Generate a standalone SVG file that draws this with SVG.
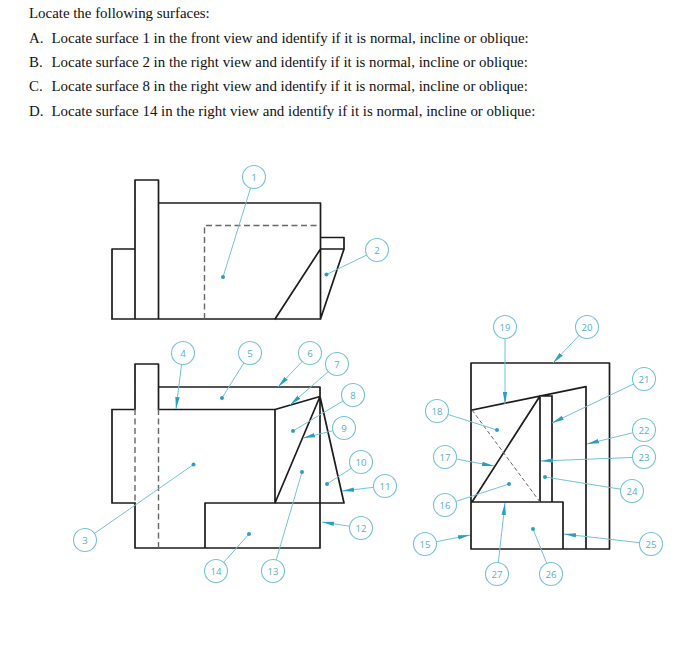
<svg xmlns="http://www.w3.org/2000/svg" width="700" height="651" viewBox="0 0 700 651">
<style>
.t{font-family:"Liberation Serif","Times New Roman",serif;font-size:14.9px;fill:#111}
.k{fill:none;stroke:#1c1c1c;stroke-width:1.7;stroke-linecap:square;stroke-linejoin:round}
.d{fill:none;stroke:#666;stroke-width:1.4;stroke-dasharray:6 3.5}
.l{fill:none;stroke:#74c2d6;stroke-width:1;}
.c{fill:#fff;stroke:#74c2d6;stroke-width:1.1}
.n{font-family:"Open Sans","Liberation Sans",sans-serif;font-size:9.6px;fill:#55afc8;text-anchor:middle}
</style>
<defs>
<marker id="a" markerUnits="userSpaceOnUse" markerWidth="13" markerHeight="8" refX="12" refY="4" orient="auto"><polygon points="0,1.8 12,4 0,6.2" fill="#2b9fc1"/></marker>
<marker id="o" markerUnits="userSpaceOnUse" markerWidth="6" markerHeight="6" refX="3" refY="3"><circle cx="3" cy="3" r="2" fill="#2b9fc1"/></marker>
</defs>
<g id="question">
<text class="t" x="29" y="18">Locate the following surfaces:</text>
<text class="t" x="29" y="42.500">A.</text><text class="t" x="51.500" y="42.500">Locate surface 1 in the front view and identify if it is normal, incline or oblique:</text>
<text class="t" x="29" y="66.700">B.</text><text class="t" x="51.500" y="66.700">Locate surface 2 in the right view and identify if it is normal, incline or oblique:</text>
<text class="t" x="29" y="91">C.</text><text class="t" x="51.500" y="91">Locate surface 8 in the right view and identify if it is normal, incline or oblique:</text>
<text class="t" x="29" y="115.500">D.</text><text class="t" x="51.500" y="115.500">Locate surface 14 in the right view and identify if it is normal, incline or oblique:</text>
</g>
<g id="top-view">
<path class="k" d="M135 319V180H158.500V319M158.500 203H320.500V319M112 319V249H135M112 319H320.500M320.500 237.500H344V249L320.500 319M320.500 249H344M320.500 249L275 319"/>
<path class="d" d="M204.500 319V225.500H320"/>
</g>
<g id="front-view">
<path class="k" d="M135 409V364H158.500V409M158.500 387H320V548H135V503M112 409.500H135M158.500 409.500H275V503M112 409.500V503H135M205 548V503H344L320 396.500L275 503M275 409.500L320 396.500"/>
<path class="d" d="M135 409V503M158.500 409V548"/>
</g>
<g id="right-view">
<path class="k" d="M471 363H609.500V549H471ZM472 410L586 386.700V549M540 396L472 502H563V549M540 396V502M552 396V502M540 396H552"/>
<path class="d" style="stroke-width:1;stroke-dasharray:4 2.500" d="M472 410L540 502"/>
</g>
<g id="connectors">
<g class="l" marker-end="url(#o)">
<path d="M254 177L223 277"/><path d="M377 250L326.500 274.500"/><path d="M85 540L193.500 464.500"/><path d="M250 353L222 398"/><path d="M353 395L293 431"/><path d="M361 462L327 484"/><path d="M273 571L302 472"/><path d="M216 571L249 534"/>
<path d="M632 491L545 477"/><path d="M551 574L533 529"/><path d="M445 505L509 484"/><path d="M437 411L497 430"/>
</g>
<g class="l" marker-end="url(#a)">
<path d="M183 353L176 409"/><path d="M310 353L278 387"/><path d="M337 364L290 405"/><path d="M344 428L303 438"/><path d="M385 486L342 491"/><path d="M361 528L322 522"/>
<path d="M505 327V404"/><path d="M587 327L553 363"/><path d="M644 379L552 423"/><path d="M644 430L587 444"/><path d="M644 457L541 461"/><path d="M651 544L564 534"/><path d="M497 574L505 503"/><path d="M425 544L470 535"/><path d="M445 457L494 466"/>
</g>
</g>
<g id="n1"><circle class="c" cx="254" cy="177" r="11.500"/><text class="n" x="254" y="180.500">1</text></g>
<g id="n2"><circle class="c" cx="377" cy="250" r="11.500"/><text class="n" x="377" y="253.500">2</text></g>
<g id="n3"><circle class="c" cx="85" cy="540" r="11.500"/><text class="n" x="85" y="543.500">3</text></g>
<g id="n4"><circle class="c" cx="183" cy="353" r="11.500"/><text class="n" x="183" y="356.500">4</text></g>
<g id="n5"><circle class="c" cx="250" cy="353" r="11.500"/><text class="n" x="250" y="356.500">5</text></g>
<g id="n6"><circle class="c" cx="310" cy="353" r="11.500"/><text class="n" x="310" y="356.500">6</text></g>
<g id="n7"><circle class="c" cx="337" cy="364" r="11.500"/><text class="n" x="337" y="367.500">7</text></g>
<g id="n8"><circle class="c" cx="353" cy="395" r="11.500"/><text class="n" x="353" y="398.500">8</text></g>
<g id="n9"><circle class="c" cx="344" cy="428" r="11.500"/><text class="n" x="344" y="431.500">9</text></g>
<g id="n10"><circle class="c" cx="361" cy="462" r="11.500"/><text class="n" x="361" y="465.500">10</text></g>
<g id="n11"><circle class="c" cx="385" cy="486" r="11.500"/><text class="n" x="385" y="489.500">11</text></g>
<g id="n12"><circle class="c" cx="361" cy="528" r="11.500"/><text class="n" x="361" y="531.500">12</text></g>
<g id="n13"><circle class="c" cx="273" cy="571" r="11.500"/><text class="n" x="273" y="574.500">13</text></g>
<g id="n14"><circle class="c" cx="216" cy="571" r="11.500"/><text class="n" x="216" y="574.500">14</text></g>
<g id="n15"><circle class="c" cx="425" cy="544" r="11.500"/><text class="n" x="425" y="547.500">15</text></g>
<g id="n16"><circle class="c" cx="445" cy="505" r="11.500"/><text class="n" x="445" y="508.500">16</text></g>
<g id="n17"><circle class="c" cx="445" cy="457" r="11.500"/><text class="n" x="445" y="460.500">17</text></g>
<g id="n18"><circle class="c" cx="437" cy="411" r="11.500"/><text class="n" x="437" y="414.500">18</text></g>
<g id="n19"><circle class="c" cx="505" cy="327" r="11.500"/><text class="n" x="505" y="330.500">19</text></g>
<g id="n20"><circle class="c" cx="587" cy="327" r="11.500"/><text class="n" x="587" y="330.500">20</text></g>
<g id="n21"><circle class="c" cx="644" cy="379" r="11.500"/><text class="n" x="644" y="382.500">21</text></g>
<g id="n22"><circle class="c" cx="644" cy="430" r="11.500"/><text class="n" x="644" y="433.500">22</text></g>
<g id="n23"><circle class="c" cx="644" cy="457" r="11.500"/><text class="n" x="644" y="460.500">23</text></g>
<g id="n24"><circle class="c" cx="632" cy="491" r="11.500"/><text class="n" x="632" y="494.500">24</text></g>
<g id="n25"><circle class="c" cx="651" cy="544" r="11.500"/><text class="n" x="651" y="547.500">25</text></g>
<g id="n26"><circle class="c" cx="551" cy="574" r="11.500"/><text class="n" x="551" y="577.500">26</text></g>
<g id="n27"><circle class="c" cx="497" cy="574" r="11.500"/><text class="n" x="497" y="577.500">27</text></g>
</svg>
